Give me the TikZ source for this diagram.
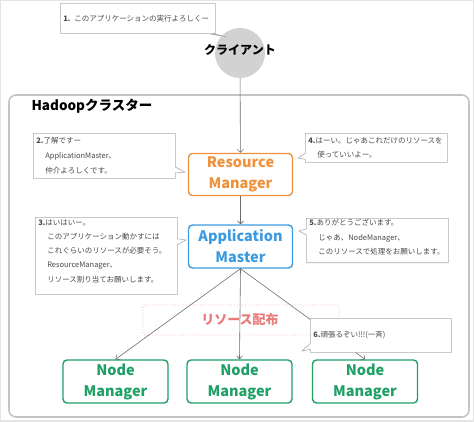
\documentclass[tikz,border=0pt]{standalone}
\usepackage{fontspec}
\setmainfont{Noto Sans CJK JP}
\usetikzlibrary{shapes.callouts,arrows.meta}
\definecolor{rmc}{HTML}{F0913C}
\definecolor{amc}{HTML}{3C9BE0}
\definecolor{nmc}{HTML}{1FA065}
\definecolor{rdc}{HTML}{E87A7A}
\definecolor{txc}{HTML}{4A4A4A}
\definecolor{frc}{HTML}{C4C4C4}
\definecolor{clc}{HTML}{D2D2D2}
\tikzset{
  mgr/.style={draw, rounded corners=4pt, line width=1.4pt, fill=white,
    font=\bfseries\fontsize{14.5}{21}\selectfont, align=center,
    minimum width=104pt, minimum height=42pt, inner sep=1pt},
  co/.style={rectangle callout, draw=gray!65, fill=white, line width=0.6pt,
    font=\fontsize{7.5}{14.5}\selectfont, text=txc, align=left,
    inner xsep=3pt, inner ysep=1pt, callout pointer width=6pt, anchor=north west},
  arr/.style={draw=gray!85!black, line width=0.6pt, -{Straight Barb[length=3pt,width=6pt]}},
}
\newcommand{\ind}{\hspace*{9pt}}
\begin{document}
\begin{tikzpicture}[x=1pt,y=-1pt]
\useasboundingbox (0,0) rectangle (474,421);
\draw[gray!20, line width=2.5pt] (0,0) rectangle (474,421);
% cluster frame
\draw[frc, line width=1.6pt, rounded corners=7pt] (9,95) rectangle (469,417);
\node[anchor=west, font=\bfseries\fontsize{13.5}{16}\selectfont] (title) at (28,106) {Hadoopクラスター};
% client
\node[circle, fill=clc, minimum size=50pt, inner sep=0pt] (client) at (240,53) {};
\node[font=\bfseries\fontsize{12}{14}\selectfont] (clientlbl) at (240,50) {クライアント};
% distribution box
\draw[rdc!60, dotted, line width=0.8pt, rounded corners=2pt] (143,305) rectangle (339,335);
\node[text=rdc, font=\bfseries\fontsize{13}{15}\selectfont] (dist) at (240,320) {リソース配布};
% managers
\node[mgr, draw=rmc, text=rmc] (rm) at (240.5,174.5) {Resource\\Manager};
\node[mgr, draw=amc, text=amc, minimum height=43pt] (am) at (240.5,246.5) {Application\\Master};
\node[mgr, draw=nmc, text=nmc, minimum width=105pt, minimum height=43pt] (nm1) at (115.5,381.5) {Node\\Manager};
\node[mgr, draw=nmc, text=nmc, minimum width=105pt, minimum height=43pt] (nm2) at (239.5,381.5) {Node\\Manager};
\node[mgr, draw=nmc, text=nmc, minimum width=105pt, minimum height=43pt] (nm3) at (365,381.5) {Node\\Manager};
% connectors
\draw[arr] (client) -- (rm);
\draw[arr] (rm) -- (am);
\draw[arr] (am.south) -- (nm1.north);
\draw[arr] (am.south) -- (nm2.north);
\draw[arr] (am.south) -- (nm3.north);
% callouts
\node[co, text width=149pt, minimum height=30pt, callout absolute pointer={(227,37)}] (c1) at (60,3)
  {\textbf{1.} このアプリケーションの実行よろしくー};
\node[co, text width=136pt, minimum height=45pt, font=\fontsize{7.5}{15}\selectfont, callout absolute pointer={(185,172)}] (c2) at (33,133)
  {\textbf{2.}了解ですー\\\ind ApplicationMaster、\\\ind 仲介よろしくです。};
\node[co, text width=136pt, minimum height=77pt, font=\fontsize{7.5}{14.2}\selectfont, callout absolute pointer={(186,240)}] (c3) at (35,217)
  {\textbf{3.}はいはいー。\\\ind このアプリケーション動かすには\\\ind これぐらいのリソースが必要そう。\\\ind ResourceManager、\\\ind リソース割り当てお願いします。\rule[-10pt]{0pt}{1pt}};
\node[co, text width=136pt, minimum height=29pt, callout absolute pointer={(298,158)}] (c4) at (305,133)
  {\textbf{4.}はーい。じゃあこれだけのリソースを\\\ind 使っていいよー。};
\node[co, text width=136pt, minimum height=44pt, callout absolute pointer={(299,231)}] (c5) at (306,218)
  {\textbf{5.}ありがとうございます。\\\ind じゃあ、NodeManager、\\\ind このリソースで処理をお願いします。\rule[-7pt]{0pt}{1pt}};
\node[co, text width=135pt, minimum height=34pt, callout absolute pointer={(302,351)}] (c6) at (310,318)
  {\textbf{6.}頑張るぞい!!!(一斉)};
\end{tikzpicture}
\end{document}
